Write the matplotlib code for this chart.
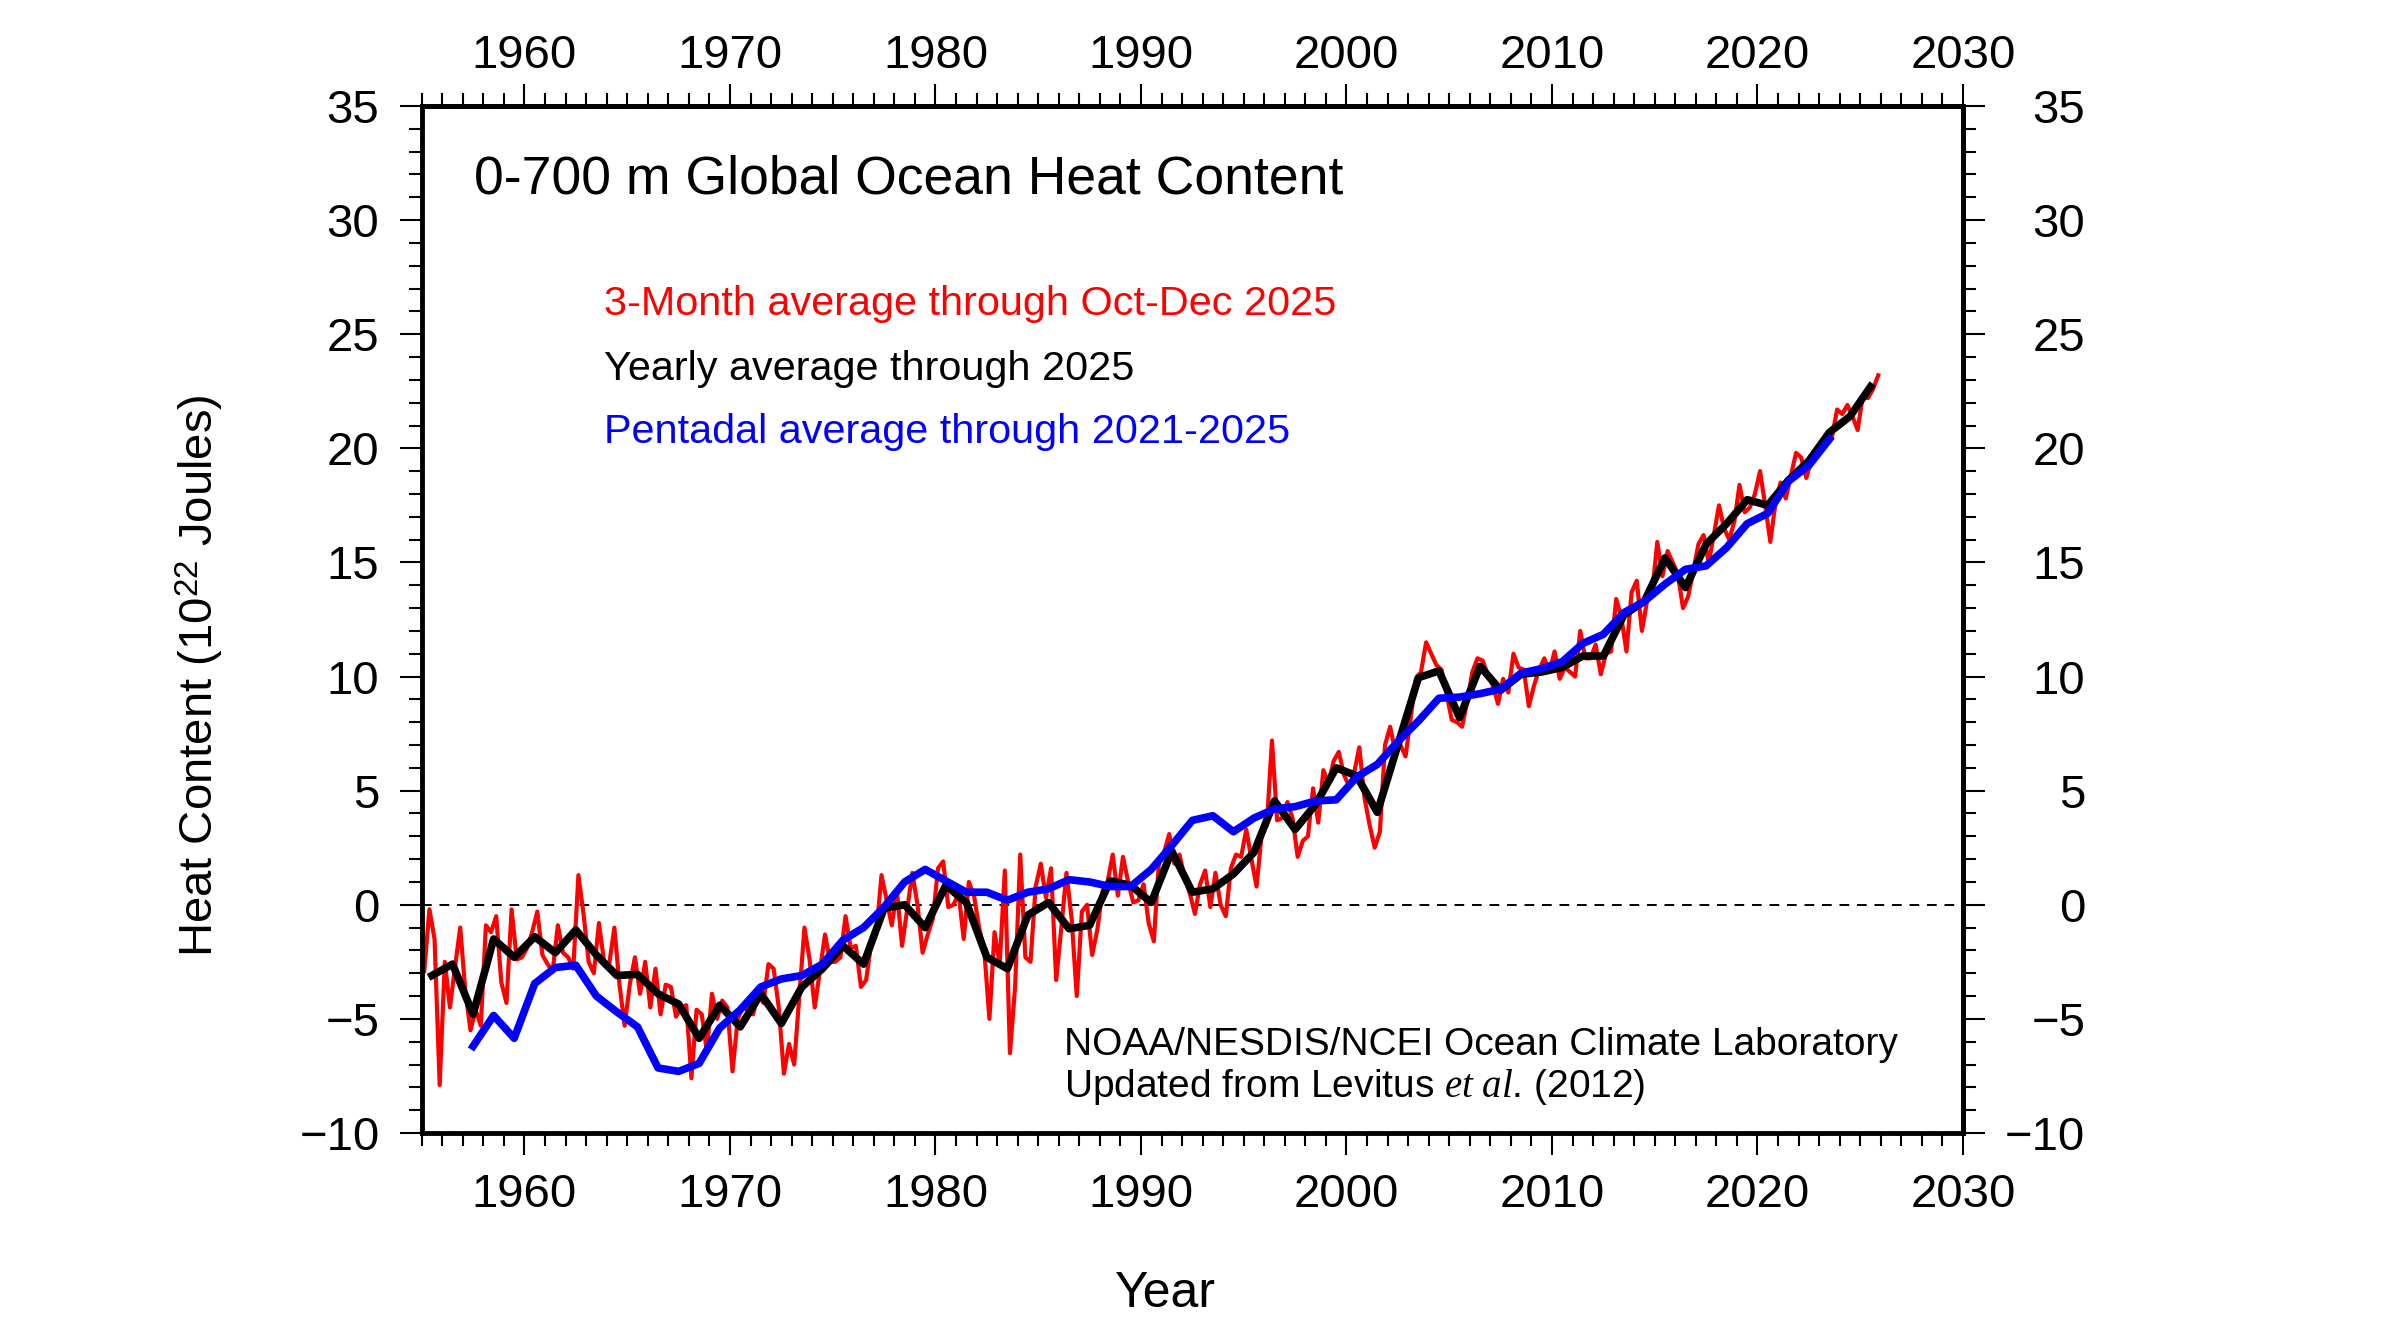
import numpy as np
import matplotlib.pyplot as plt
from matplotlib.ticker import MultipleLocator, FixedLocator

# ---- data (10^22 J) ----
first_year, last_year = 1955, 2025

# 3-month (seasonal) averages, one row per year: Jan-Mar, Apr-Jun, Jul-Sep, Oct-Dec
seasonal = [
    [-2.9, -0.2, -1.5, -7.9],   # 1955
    [-2.5, -4.5, -2.7, -1.0],
    [-3.8, -5.5, -4.6, -5.3],
    [-0.9, -1.2, -0.5, -3.4],
    [-4.3, -0.2, -2.4, -2.3],
    [-1.9, -1.2, -0.3, -2.2],   # 1960
    [-2.6, -2.9, -0.9, -2.1],
    [-2.3, -2.8, 1.3, -0.4],
    [-2.5, -3.0, -0.8, -2.5],
    [-2.6, -1.0, -3.5, -5.3],
    [-3.5, -2.3, -3.9, -2.5],   # 1965
    [-4.5, -2.8, -4.8, -3.5],
    [-3.6, -4.9, -4.5, -4.4],
    [-7.6, -4.6, -4.8, -6.4],
    [-3.9, -5.0, -4.2, -4.5],
    [-7.3, -5.0, -4.5, -4.6],   # 1970
    [-4.8, -3.9, -4.3, -2.6],
    [-2.8, -4.5, -7.4, -6.1],
    [-7.0, -4.0, -1.0, -2.4],
    [-4.5, -2.9, -1.3, -2.5],
    [-2.5, -2.3, -0.5, -1.9],   # 1975
    [-1.8, -3.6, -3.3, -1.7],
    [-1.2, 1.3, 0.2, -0.9],
    [0.6, -1.8, -0.2, 1.4],
    [0.0, -2.1, -1.3, -0.6],
    [1.6, 1.9, -0.1, 0.0],      # 1980
    [0.5, -1.5, 1.0, 0.4],
    [-1.0, -2.0, -5.0, -1.2],
    [-2.6, 1.5, -6.5, -3.6],
    [2.2, -2.3, -2.5, 0.8],
    [1.8, 0.3, 1.6, -3.3],      # 1985
    [-1.0, 1.4, -0.6, -4.0],
    [-0.3, 0.0, -2.2, -1.1],
    [0.6, 1.0, 2.2, 0.4],
    [2.1, 1.0, 0.1, 0.2],
    [0.9, -0.8, -1.6, 1.9],     # 1990
    [2.3, 3.1, 1.8, 2.2],
    [1.2, 0.5, -0.4, 0.9],
    [1.5, -0.1, 1.4, 0.0],
    [-0.5, 1.6, 2.2, 2.1],
    [3.3, 2.0, 0.8, 3.1],       # 1995
    [3.5, 7.2, 3.7, 3.8],
    [4.5, 3.8, 2.1, 2.8],
    [3.0, 5.1, 3.6, 5.9],
    [5.3, 6.3, 6.7, 5.7],
    [5.2, 5.8, 6.9, 4.7],       # 2000
    [3.5, 2.5, 3.2, 7.0],
    [7.8, 6.7, 7.0, 6.5],
    [8.2, 9.9, 10.2, 11.5],
    [11.0, 10.5, 10.3, 9.2],
    [8.1, 8.0, 7.8, 8.9],       # 2005
    [10.2, 10.8, 10.7, 10.1],
    [9.6, 8.8, 9.9, 9.3],
    [11.0, 10.4, 10.3, 8.7],
    [9.6, 10.3, 10.8, 10.2],
    [11.1, 9.9, 10.4, 10.2],    # 2010
    [10.0, 12.0, 10.8, 10.8],
    [11.4, 10.1, 11.0, 11.1],
    [13.4, 12.6, 11.1, 13.7],
    [14.2, 12.0, 13.3, 13.7],
    [15.9, 14.4, 15.5, 15.0],   # 2015
    [14.5, 13.0, 13.5, 14.6],
    [15.8, 16.2, 15.0, 16.2],
    [17.5, 16.5, 16.0, 16.8],
    [18.4, 17.2, 17.4, 18.0],
    [19.0, 17.5, 15.9, 17.6],   # 2020
    [18.5, 17.8, 18.8, 19.8],
    [19.6, 18.7, 19.5, 20.0],
    [20.2, 20.4, 20.5, 21.7],
    [21.5, 21.9, 21.4, 20.8],
    [22.3, 22.2, 22.6, 23.2],   # 2025
]

# yearly averages 1955..2025
yearly = [
    -3.1, -2.6, -4.8, -1.5, -2.3, -1.4, -2.1, -1.1, -2.2, -3.1,
    -3.05, -3.9, -4.35, -5.85, -4.4, -5.35, -3.9, -5.2, -3.6, -2.8,
    -1.8, -2.6, -0.15, 0.0, -1.0, 0.85, 0.1, -2.3, -2.8, -0.45,
    0.1, -1.05, -0.9, 1.05, 0.85, 0.1, 2.35, 0.55, 0.7, 1.35,
    2.3, 4.55, 3.3, 4.4, 6.0, 5.65, 4.05, 7.0, 9.95, 10.25,
    8.2, 10.45, 9.4, 10.1, 10.2, 10.4, 10.9, 10.9, 12.7, 13.3,
    15.2, 13.9, 15.8, 16.7, 17.75, 17.5, 18.6, 19.45, 20.7, 21.4,
    22.7,
]

# pentadal averages, centred 1957.5 .. 2023.5
pentadal = [
    -6.2, -4.85, -5.85, -3.45, -2.75, -2.65, -4.0, -4.7, -5.35, -7.15,
    -7.3, -6.95, -5.4, -4.6, -3.6, -3.25, -3.1, -2.6, -1.55, -1.0,
    -0.1, 1.0, 1.55, 1.05, 0.55, 0.55, 0.2, 0.55, 0.7, 1.1,
    1.0, 0.8, 0.8, 1.55, 2.6, 3.7, 3.9, 3.2, 3.8, 4.2,
    4.3, 4.55, 4.6, 5.6, 6.15, 7.15, 8.05, 9.05, 9.1, 9.25,
    9.45, 10.15, 10.35, 10.65, 11.45, 11.85, 12.8, 13.3, 14.05, 14.7,
    14.85, 15.65, 16.7, 17.15, 18.55, 19.25, 20.4,
]

x_ticks = [1960, 1970, 1980, 1990, 2000, 2010, 2020, 2030]
y_ticks = [-10, -5, 0, 5, 10, 15, 20, 25, 30, 35]

title = '0-700 m Global Ocean Heat Content'
legend_lines = [('3-Month average through Oct-Dec 2025', '#ff0000'),
                ('Yearly average through 2025', 'black'),
                ('Pentadal average through 2021-2025', '#0000ff')]

# time axes
yrs = np.arange(first_year, last_year + 1)
t_seas = (yrs[:, None] + np.array([0.125, 0.375, 0.625, 0.875])[None, :]).ravel()
v_seas = np.array(seasonal).ravel()
t_year = yrs + 0.5
t_pent = np.arange(1957, 1957 + len(pentadal)) + 0.5

plt.rcParams['font.family'] = ['Liberation Sans', 'DejaVu Sans']
plt.rcParams['mathtext.fontset'] = 'custom'
plt.rcParams['mathtext.rm'] = 'Liberation Sans'
plt.rcParams['mathtext.it'] = 'Liberation Serif:italic'

W, H = 2383, 1340
fig = plt.figure(figsize=(W / 100, H / 100), dpi=100)
ax = fig.add_axes([421.7 / W, 1 - 1133 / H, (1963 - 421.7) / W, (1133 - 106) / H])

ax.axhline(0, color='black', lw=1.4, dashes=(5, 4), zorder=1)
ax.plot(t_seas, v_seas, color='#ff0000', lw=3, zorder=2)
ax.plot(t_year, yearly, color='black', lw=5.5, zorder=3)
ax.plot(t_pent, pentadal, color='#0000ff', lw=5.5, zorder=4)

ax.set_xlim(1955, 2030)
ax.set_ylim(-10, 35)

tick_font = {'family': 'Liberation Sans', 'size': 34}
spine_lw = 3.5

def style(axis_obj, which_axis, pad):
    axis_obj.tick_params(axis=which_axis, which='major', length=16, width=1.5,
                         direction='out', pad=pad)
    axis_obj.tick_params(axis=which_axis, which='minor', length=9.5, width=1.5,
                         direction='out')

ax.xaxis.set_major_locator(FixedLocator(x_ticks))
ax.xaxis.set_minor_locator(MultipleLocator(1))
ax.yaxis.set_major_locator(FixedLocator(y_ticks))
ax.yaxis.set_minor_locator(MultipleLocator(1))
ax.set_xticklabels([str(v) for v in x_ticks], fontdict=tick_font)
ax.set_yticklabels([f'{v:d}'.replace('-', '\u2212') for v in y_ticks], fontdict=tick_font)
style(ax, 'x', 13)
style(ax, 'y', 14.4)
for s in ax.spines.values():
    s.set_linewidth(spine_lw)

top = ax.secondary_xaxis('top')
top.xaxis.set_major_locator(FixedLocator(x_ticks))
top.xaxis.set_minor_locator(MultipleLocator(1))
top.set_xticklabels([str(v) for v in x_ticks], fontdict=tick_font)
style(top, 'x', 4.3)
top.spines['top'].set_linewidth(spine_lw)

right = ax.secondary_yaxis('right')
right.yaxis.set_major_locator(FixedLocator(y_ticks))
right.yaxis.set_minor_locator(MultipleLocator(1))
right.set_yticklabels([f'{v:d}'.replace('-', '\u2212') for v in y_ticks], fontdict=tick_font)
style(right, 'y', 72)
plt.setp(right.get_yticklabels(), ha='right')
right.spines['right'].set_linewidth(spine_lw)

def fx(px):
    return px / W

def fy(py):
    return 1 - py / H

fig.text(fx(474), fy(193), title, fontsize=38.5, va='baseline', ha='left')
for (txt, col), base in zip(legend_lines, [315, 380, 443]):
    fig.text(fx(604), fy(base), txt, color=col, fontsize=29.8, va='baseline', ha='left')

fig.text(fx(1064), fy(1055), 'NOAA/NESDIS/NCEI Ocean Climate Laboratory',
         fontsize=28, va='baseline', ha='left')
fig.text(fx(1064), fy(1097), r'Updated from Levitus $\mathit{et\ al}$. (2012)',
         fontsize=28, va='baseline', ha='left')

fig.text(fx(1165), fy(1307), 'Year', fontsize=36, va='baseline', ha='center')
fig.text(fx(200), fy(676), r'Heat Content (10$^{22}$ Joules)', fontsize=34,
         rotation=90, va='center', ha='center')

fig.savefig('out.png', dpi=100)
